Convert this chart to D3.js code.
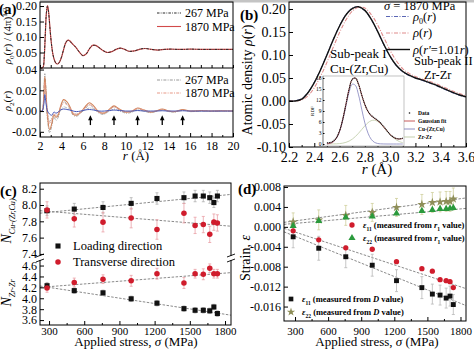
<!DOCTYPE html>
<html>
<head>
<meta charset="utf-8">
<script src="https://cdn.jsdelivr.net/npm/d3@7"></script>
<style>
body { margin: 0; background: #fff; }
svg { display: block; font-family: "Liberation Serif", "Times New Roman", serif; }
</style>
</head>
<body>
<script>
// ---------- data ----------

// (a) upper panel: rho0(r)/(4pi)^1/2
const rA = [2.0, 2.2, 2.3, 2.4, 2.5, 2.6, 2.7, 2.8, 2.9, 3.0, 3.1, 3.2, 3.35, 3.5, 3.65, 3.8, 4.0, 4.2, 4.4, 4.6,
            4.8, 5.0, 5.2, 5.4, 5.7, 6.0, 6.3, 6.6, 6.9, 7.2, 7.5, 7.9, 8.3, 8.7, 9.1, 9.5, 9.9, 10.3, 10.8, 11.3,
            11.8, 12.4, 13.0, 13.6, 14.2, 14.8, 15.4, 16.0, 17.0, 18.0, 19.0, 20.0];
const rho0_267 = [0.000, 0.000, 0.004, 0.040, 0.115, 0.180, 0.200, 0.180, 0.140, 0.100,
                  0.068, 0.045, 0.025, 0.015, 0.013, 0.018, 0.035, 0.060, 0.082, 0.090,
                  0.086, 0.078, 0.072, 0.064, 0.050, 0.040, 0.045, 0.062, 0.073, 0.072,
                  0.066, 0.056, 0.050, 0.053, 0.061, 0.064, 0.060, 0.054, 0.055, 0.061,
                  0.063, 0.060, 0.058, 0.060, 0.061, 0.060, 0.060, 0.061, 0.060, 0.060,
                  0.060, 0.060];
const rho0_1870 = [0.000, 0.000, 0.003, 0.037, 0.112, 0.178, 0.201, 0.182, 0.142, 0.101,
                   0.069, 0.045, 0.025, 0.015, 0.013, 0.018, 0.034, 0.059, 0.081, 0.090,
                   0.087, 0.079, 0.072, 0.064, 0.050, 0.040, 0.045, 0.061, 0.073, 0.073,
                   0.066, 0.056, 0.050, 0.053, 0.060, 0.064, 0.060, 0.054, 0.055, 0.060,
                   0.063, 0.060, 0.058, 0.060, 0.061, 0.060, 0.060, 0.061, 0.060, 0.060,
                   0.060, 0.060];

// (a) lower panel: rho2(r)
const rL = [2.0, 2.2, 2.35, 2.45, 2.55, 2.7, 2.9, 3.1, 3.3, 3.5, 3.7, 3.9, 4.2, 4.5, 4.8, 5.1, 5.4, 5.8, 6.2, 6.6,
            7.0, 7.5, 8.0, 8.5, 8.9, 9.4, 10.0, 10.6, 11.1, 11.7, 12.3, 12.8, 13.4, 14.0, 14.6, 15.3, 16.0, 17.0, 18.0, 19.0, 20.0];
const rho2_267a = [0.000, 0.000, 0.018, 0.036, 0.022, -0.008, -0.021, -0.014, -0.006, -0.009,
                   -0.006, 0.002, 0.009, 0.007, 0.002, -0.004, -0.005, -0.002, 0.002, 0.006,
                   0.003, -0.002, -0.003, 0.001, 0.004, 0.001, -0.002, -0.001, 0.002, 0.000,
                   -0.0015, -0.0005, 0.0015, -0.0005, -0.001, 0.001, -0.0005, 0.000, -0.0003, 0.000, 0.000];
const rho2_267b = [0.000, 0.000, 0.010, 0.025, 0.015, -0.003, -0.010, -0.007, -0.003, -0.005,
                   -0.003, 0.000, 0.004, 0.003, 0.001, -0.002, -0.003, -0.001, 0.001, 0.003,
                   0.002, -0.001, -0.002, 0.000, 0.002, 0.000, -0.001, -0.0005, 0.001, 0.000,
                   -0.001, 0.000, 0.001, 0.000, -0.0005, 0.0005, 0.000, 0.000, 0.000, 0.000, 0.000];
const rho2_1870a = [0.000, 0.000, 0.015, 0.033, 0.020, -0.005, -0.018, -0.012, -0.004, -0.006,
                    -0.004, 0.004, 0.011, 0.009, 0.004, -0.003, -0.004, -0.001, 0.004, 0.008,
                    0.005, -0.001, -0.002, 0.002, 0.005, 0.002, -0.001, 0.000, 0.003, 0.001,
                    -0.001, 0.000, 0.002, 0.000, -0.0005, 0.0015, 0.000, 0.0005, 0.000, 0.0003, 0.000];
const rho2_1870b = [0.000, 0.000, 0.012, 0.028, 0.017, -0.002, -0.012, -0.008, -0.003, -0.004,
                    -0.002, 0.003, 0.008, 0.006, 0.003, -0.002, -0.003, -0.001, 0.003, 0.006,
                    0.004, -0.001, -0.0015, 0.0015, 0.004, 0.0015, -0.001, 0.000, 0.0025, 0.001,
                    -0.0008, 0.000, 0.0015, 0.000, -0.0004, 0.001, 0.000, 0.0004, 0.000, 0.0002, 0.000];
const rho2_low = [0.000, 0.000, 0.006, 0.016, 0.008, 0.000, -0.003, -0.004, -0.001, -0.002,
                  -0.001, 0.001, 0.002, 0.0015, 0.001, 0.000, -0.0005, 0.000, 0.001, 0.0015,
                  0.001, 0.000, 0.000, 0.0005, 0.001, 0.0005, 0.000, 0.000, 0.0005, 0.000,
                  0.000, 0.000, 0.0003, 0.000, 0.000, 0.0003, 0.000, 0.000, 0.000, 0.000, 0.000];
const arrowR = [6.7, 8.9, 11.1, 13.4, 15.3];

// (b) atomic density around the first peak
const rB = [2.20, 2.25, 2.30, 2.35, 2.40, 2.45, 2.50, 2.55, 2.60, 2.65, 2.70, 2.75, 2.80, 2.85, 2.90,
            2.95, 3.00, 3.05, 3.10, 3.15, 3.20, 3.25, 3.30, 3.35, 3.40, 3.45, 3.50, 3.55, 3.60];
const rhoB0 = [0.000, 0.001, 0.005, 0.019, 0.041, 0.069, 0.101, 0.134, 0.164, 0.188, 0.202, 0.204, 0.196, 0.177, 0.151,
               0.122, 0.096, 0.076, 0.063, 0.055, 0.050, 0.045, 0.040, 0.035, 0.029, 0.023, 0.017, 0.012, 0.008];
const rhoB = [0.000, 0.000, 0.002, 0.011, 0.029, 0.054, 0.084, 0.117, 0.149, 0.176, 0.195, 0.204, 0.202, 0.188, 0.166,
              0.138, 0.110, 0.087, 0.070, 0.060, 0.053, 0.048, 0.044, 0.039, 0.033, 0.027, 0.021, 0.016, 0.011];
const rhoB101 = [0.000, 0.000, 0.004, 0.018, 0.040, 0.068, 0.100, 0.133, 0.163, 0.187, 0.201, 0.205, 0.197, 0.178, 0.152,
                 0.123, 0.097, 0.077, 0.064, 0.056, 0.050, 0.046, 0.041, 0.036, 0.030, 0.024, 0.018, 0.013, 0.009];

// (b) inset: RDF and its two-gaussian fit
const rIn = [2.500, 2.525, 2.550, 2.575, 2.600, 2.625, 2.650, 2.675, 2.700, 2.725, 2.750, 2.775, 2.800,
             2.825, 2.850, 2.875, 2.900, 2.925, 2.950, 2.975, 3.000, 3.025, 3.050, 3.075, 3.100];
const rdfData = [0.3, 0.4, 0.8, 1.7, 3.6, 6.7, 10.8, 14.9, 17.6, 18.0, 16.3, 13.4, 10.8,
                 8.9, 7.8, 7.1, 6.5, 5.7, 4.7, 3.6, 2.6, 1.9, 1.5, 1.4, 1.6];
const rdfFit = [0.05, 0.2, 0.6, 1.6, 3.5, 6.7, 10.8, 14.9, 17.6, 18.0, 16.3, 13.4, 10.7,
                8.8, 7.7, 7.0, 6.4, 5.6, 4.6, 3.6, 2.6, 1.85, 1.45, 1.35, 1.5];
const rdfCu = [0.05, 0.19, 0.59, 1.54, 3.42, 6.44, 10.3, 14.1, 16.3, 16.0, 13.4, 9.5, 5.75,
               2.95, 1.29, 0.48, 0.15, 0.04, 0.01, 0, 0, 0, 0, 0, 0];
const rdfZr = [0, 0.01, 0.02, 0.05, 0.11, 0.23, 0.45, 0.79, 1.31, 2.03, 2.93, 3.94, 4.96,
               5.81, 6.36, 6.49, 6.18, 5.50, 4.56, 3.53, 2.55, 1.72, 1.08, 0.63, 0.35];

// (c) coordination numbers vs applied stress
const stress = [283, 515, 760, 1000, 1220, 1450, 1545, 1615, 1670, 1705, 1735];
const cuLoad = [7.93, 7.95, 7.97, 8.02, 8.08, 8.09, 8.11, 8.11, 8.09, 8.03, 8.11];
const cuLoadErr = [0.06, 0.07, 0.07, 0.07, 0.07, 0.07, 0.07, 0.07, 0.07, 0.06, 0.07];
const cuTrans = [7.94, 7.83, 7.79, 7.84, 7.70, 7.90, 7.75, 7.76, 7.64, 7.79, 7.78];
const cuTransErr = [0.10, 0.10, 0.12, 0.12, 0.12, 0.12, 0.10, 0.10, 0.10, 0.10, 0.10];
const zrLoad = [4.23, 4.14, 4.10, 3.99, 3.91, 3.81, 3.78, 3.78, 3.77, 3.84, 3.72];
const zrLoadErr = [0.06, 0.05, 0.05, 0.05, 0.05, 0.05, 0.05, 0.05, 0.05, 0.05, 0.05];
const zrTrans = [4.19, 4.29, 4.35, 4.32, 4.45, 4.28, 4.45, 4.44, 4.55, 4.45, 4.45];
const zrTransErr = [0.08, 0.08, 0.08, 0.10, 0.10, 0.10, 0.08, 0.10, 0.08, 0.08, 0.08];
const fitStressC = [223, 1851];
const fitCuLoad = [7.90, 8.13];
const fitCuTrans = [7.93, 7.74];
const fitZrLoad = [4.225, 3.69];
const fitZrTrans = [4.20, 4.47];

// (d) strain vs applied stress
const eps11r = [-0.0008, -0.0026, -0.0042, -0.0045, -0.0070, -0.0084, -0.0089, -0.0106, -0.0108, -0.0110, -0.0122];
const eps22r = [0.0002, 0.0012, 0.0019, 0.0021, 0.0027, 0.0032, 0.0034, 0.0036, 0.0036, 0.0037, 0.0038];
const eps11D = [-0.0020, -0.0043, -0.0060, -0.0077, -0.0108, -0.0122, -0.0135, -0.0137, -0.0143, -0.0139, -0.0156];
const eps11DErr = [0.0022, 0.0024, 0.0022, 0.0022, 0.0022, 0.0022, 0.0020, 0.0020, 0.0020, 0.0020, 0.0020];
const eps22D = [0.0010, 0.0014, 0.0023, 0.0029, 0.0039, 0.0045, 0.0049, 0.0050, 0.0051, 0.0051, 0.0056];
const eps22DErr = [0.0018, 0.0020, 0.0020, 0.0018, 0.0018, 0.0020, 0.0020, 0.0020, 0.0020, 0.0020, 0.0022];
const fitStressD = [200, 1850];
const fit11r = [-0.0003, -0.0124];
const fit22r = [0.0005, 0.0037];
const fit11D = [-0.0010, -0.0158];
const fit22D = [0.0009, 0.0058];

// ---------- drawing ----------
const W = 474, H = 349;
const FONT = '"Liberation Serif", "Times New Roman", serif';
const svg = d3.select("body").append("svg").attr("width", W).attr("height", H);
svg.append("rect").attr("width", W).attr("height", H).attr("fill", "#fff");
svg.append("rect").attr("x", 40).attr("y", 0).attr("width", W - 40).attr("height", 2.5).attr("fill", "#c4c4c4");

// text with italic / sub / sup parts
function rich(g, x, y, parts, size, opt = {}) {
    const t = g.append("text").attr("x", x).attr("y", y).attr("font-size", size)
        .attr("text-anchor", opt.anchor || "start").attr("fill", opt.fill || "#000");
    if (opt.rotate) t.attr("transform", `rotate(-90,${x},${y})`);
    if (opt.bold) t.attr("font-weight", "bold");
    let shift = 0;
    parts.forEach(p => {
        const s = t.append("tspan").text(p.t);
        const want = p.sub ? size * 0.3 : p.sup ? -size * 0.4 : 0;
        if (want !== shift) { s.attr("dy", want - shift); shift = want; }
        if (p.i) s.attr("font-style", "italic");
        if (p.sub || p.sup) s.attr("font-size", size * (p.fs || 0.65));
    });
    return t;
}

function frame(g, x0, y0, x1, y1) {
    g.append("rect").attr("x", x0).attr("y", y0).attr("width", x1 - x0).attr("height", y1 - y0)
        .attr("fill", "none").attr("stroke", "#000").attr("stroke-width", 1);
}

// inward ticks, labels outside, no domain line (frames are drawn separately)
function axis(g, gen, tx, ty, size) {
    const a = g.append("g").attr("transform", `translate(${tx},${ty})`).call(gen);
    a.select(".domain").remove();
    a.attr("font-family", FONT).attr("font-size", size);
    return a;
}

function series(g, xs, ys, sx, sy, style, curve) {
    g.append("path")
        .attr("d", d3.line().x((d, i) => sx(xs[i])).y(d => sy(d)).curve(curve || d3.curveCatmullRom)(ys))
        .attr("fill", "none")
        .attr("stroke", style.stroke)
        .attr("stroke-width", style.width || 1)
        .attr("stroke-dasharray", style.dash || null);
}

// ===== panel (a) =====
const gA = svg.append("g");
const xA = d3.scaleLinear().domain([2, 20]).range([40, 233]);
const yA0 = d3.scaleLinear().domain([0, 0.213]).range([68, 2]);
const yA2 = d3.scaleLinear().domain([-0.025, 0.0415]).range([137, 68]);

series(gA, rA, rho0_1870, xA, yA0, {stroke: "#d24a4a", width: 1.2});
series(gA, rA, rho0_267, xA, yA0, {stroke: "#2a2a2a", width: 1, dash: "2.5,1.2,0.8,1.2"});

series(gA, rL, rho2_267a, xA, yA2, {stroke: "#9a9a9a", width: 0.9, dash: "3,1.2,1,1.2"});
series(gA, rL, rho2_267b, xA, yA2, {stroke: "#a8a8a8", width: 0.9, dash: "3,1.2,1,1.2"});
series(gA, rL, rho2_1870a, xA, yA2, {stroke: "#d0845c", width: 1.1});
series(gA, rL, rho2_1870b, xA, yA2, {stroke: "#e89a88", width: 0.9, dash: "3,1.2,1,1.2"});
series(gA, rL, rho2_low, xA, yA2, {stroke: "#4656b8", width: 1});

arrowR.forEach(r => {
    const x = xA(r), yt = yA2(-0.0135), yh = yA2(-0.004);
    gA.append("line").attr("x1", x).attr("x2", x).attr("y1", yt).attr("y2", yh + 4)
        .attr("stroke", "#000").attr("stroke-width", 1.3);
    gA.append("path").attr("d", `M${x - 2.3},${yh + 5}L${x + 2.3},${yh + 5}L${x},${yh}Z`).attr("fill", "#000");
});

frame(gA, 40, 2, 233, 137);
gA.append("line").attr("x1", 40).attr("x2", 233).attr("y1", 68).attr("y2", 68).attr("stroke", "#000");

axis(gA, d3.axisBottom(xA).tickValues(d3.range(2, 21, 2)).tickSize(-4).tickPadding(4).tickFormat(d3.format("d")), 0, 137, 12);
axis(gA, d3.axisBottom(xA).tickValues(d3.range(3, 20, 2)).tickSize(-2).tickFormat(""), 0, 137, 12);
axis(gA, d3.axisBottom(xA).tickValues(d3.range(2, 21, 1)).tickSize(-3).tickFormat(""), 0, 68, 12);
axis(gA, d3.axisLeft(yA0).tickValues([0.05, 0.10, 0.15, 0.20]).tickSize(-4).tickPadding(3).tickFormat(d => d.toFixed(2)), 40, 0, 12);
axis(gA, d3.axisLeft(yA2).tickValues([-0.02, 0.00, 0.02, 0.04]).tickSize(-4).tickPadding(3).tickFormat(d => d.toFixed(2)), 40, 0, 12);

rich(gA, -1, 14, [{t: "(a)"}], 15, {bold: true});
rich(gA, 11, 36, [{t: "ρ", i: true}, {t: "0", sub: true}, {t: "("}, {t: "r", i: true}, {t: ") / (4π)"}, {t: "1/2", sup: true}], 11, {rotate: true, anchor: "middle"});
rich(gA, 11, 101, [{t: "ρ", i: true}, {t: "2", sub: true}, {t: "("}, {t: "r", i: true}, {t: ")"}], 11, {rotate: true, anchor: "middle"});
rich(gA, 136, 160, [{t: "r", i: true}, {t: " (Å)"}], 13, {anchor: "middle"});

// legends (a)
[[13, "#2a2a2a", "2.5,1.2,0.8,1.2", "267 MPa"], [26.5, "#d24a4a", null, "1870 MPa"],
 [80, "#9a9a9a", "3,1.2,1,1.2", "267 MPa"], [93, "#e89a88", "3,1.2,1,1.2", "1870 MPa"]].forEach(d => {
    gA.append("line").attr("x1", 157).attr("x2", 181).attr("y1", d[0]).attr("y2", d[0])
        .attr("stroke", d[1]).attr("stroke-width", 1.1).attr("stroke-dasharray", d[2]);
    rich(gA, 185, d[0] + 4, [{t: d[3]}], 12);
});

// ===== panel (b) =====
const gB = svg.append("g");
const xB = d3.scaleLinear().domain([2.2, 3.6]).range([289, 466]);
const yB = d3.scaleLinear().domain([-0.1, 0.2152]).range([147, 2]);

series(gB, rB, rhoB0, xB, yB, {stroke: "#5a66b4", width: 1, dash: "4,1.5,1,1.5"});
series(gB, rB, rhoB, xB, yB, {stroke: "#e08c8c", width: 1.1, dash: "4,1.5,1,1.5"});
series(gB, rB, rhoB101, xB, yB, {stroke: "#111", width: 1.4});

frame(gB, 289, 2, 466, 147);
axis(gB, d3.axisBottom(xB).tickValues(d3.range(2.2, 3.61, 0.2)).tickSize(-4).tickPadding(5).tickFormat(d => d.toFixed(1)), 0, 147, 14);
axis(gB, d3.axisBottom(xB).tickValues(d3.range(2.3, 3.6, 0.2)).tickSize(-2).tickFormat(""), 0, 147, 14);
axis(gB, d3.axisLeft(yB).tickValues([-0.10, -0.05, 0.00, 0.05, 0.10, 0.15, 0.20]).tickSize(-4).tickPadding(3).tickFormat(d => d.toFixed(2)), 289, 0, 14);

rich(gB, 240, 20, [{t: "(b)"}], 15, {bold: true});
rich(gB, 252, 80, [{t: "Atomic density "}, {t: "ρ", i: true}, {t: "("}, {t: "r", i: true}, {t: ")"}], 14, {rotate: true, anchor: "middle"});
rich(gB, 377, 174, [{t: "r", i: true}, {t: " (Å)"}], 15, {anchor: "middle"});

rich(gB, 384, 10, [{t: "σ", i: true}, {t: " = 1870 MPa"}], 12.5);
[[16.5, "#5a66b4", "4,1.5,1,1.5", [{t: "ρ", i: true}, {t: "0", sub: true}, {t: "("}, {t: "r", i: true}, {t: ")"}]],
 [33, "#e08c8c", "4,1.5,1,1.5", [{t: "ρ", i: true}, {t: "("}, {t: "r", i: true}, {t: ")"}]],
 [49.5, "#111", null, [{t: "ρ", i: true}, {t: "("}, {t: "r'", i: true}, {t: "=1.01"}, {t: "r", i: true}, {t: ")"}]]].forEach(d => {
    gB.append("line").attr("x1", 386).attr("x2", 410).attr("y1", d[0]).attr("y2", d[0])
        .attr("stroke", d[1]).attr("stroke-width", d[2] ? 1.1 : 1.4).attr("stroke-dasharray", d[2]);
    rich(gB, 413, d[0] + 4, d[3], 12.5);
});
rich(gB, 330, 58, [{t: "Sub-peak I"}], 13);
rich(gB, 330, 73, [{t: "Cu-(Zr,Cu)"}], 13);
rich(gB, 414, 65, [{t: "Sub-peak II"}], 12.5);
rich(gB, 424, 79, [{t: "Zr-Zr"}], 12.5);

// inset
const gI = svg.append("g");
const yIn = d3.scaleLinear().domain([0, 18]).range([144, 78]);
gI.append("rect").attr("x", 323).attr("y", 76).attr("width", 81).attr("height", 70)
    .attr("fill", "#fff").attr("stroke", "#9a9a9a").attr("stroke-width", 0.6);
series(gI, rIn, rdfZr, xB, yIn, {stroke: "#bccaa4", width: 0.8});
series(gI, rIn, rdfCu, xB, yIn, {stroke: "#8282bc", width: 0.8});
series(gI, rIn, rdfFit, xB, yIn, {stroke: "#c04848", width: 0.8});
series(gI, rIn, rdfData, xB, yIn, {stroke: "#111", width: 1.1, dash: "1.2,0.6"});
gI.append("line").attr("x1", 323).attr("x2", 323).attr("y1", 76).attr("y2", 146).attr("stroke", "#555").attr("stroke-width", 0.6);
axis(gI, d3.axisLeft(yIn).tickValues([0, 3, 6, 9, 12, 15, 18]).tickSize(-1.5).tickPadding(1.5), 323, 0, 5.5);
rich(gI, 314, 111, [{t: "RDF"}], 5, {rotate: true, anchor: "middle"});

[["Data", null], ["Gaussian fit", "#c04848"], ["Cu-(Zr,Cu)", "#8282bc"], ["Zr-Zr", "#bccaa4"]].forEach((d, i) => {
    const y = 113 + i * 8;
    if (d[1]) gI.append("line").attr("x1", 404).attr("x2", 415).attr("y1", y).attr("y2", y).attr("stroke", d[1]).attr("stroke-width", 0.9);
    else gI.append("circle").attr("cx", 409.5).attr("cy", y).attr("r", 0.8).attr("fill", "#111");
    rich(gI, 418, y + 2, [{t: d[0]}], 5.5, {bold: true});
});

// ===== panel (c) =====
const gC = svg.append("g");
const xC = d3.scaleLinear().domain([223, 1851]).range([40, 231]);
const yCu = d3.scaleLinear().domain([7.35, 8.27]).range([258, 183]);
const yZr = d3.scaleLinear().domain([3.51, 4.72]).range([325, 259]);

function dashedFit(g, xs, ys, sx, sy) {
    g.append("path").attr("d", d3.line().x((d, i) => sx(xs[i])).y(d => sy(d))(ys))
        .attr("stroke", "#8a8a8a").attr("stroke-width", 1).attr("stroke-dasharray", "2.5,1.5").attr("fill", "none");
}
function errBars(g, xs, ys, es, sx, sy, color, cap) {
    g.selectAll(null).data(ys).join("g").each(function (d, i) {
        const x = sx(xs[i]), y0 = sy(d - es[i]), y1 = sy(d + es[i]);
        const e = d3.select(this);
        e.append("line").attr("x1", x).attr("x2", x).attr("y1", y0).attr("y2", y1).attr("stroke", color).attr("stroke-width", 0.8);
        e.append("line").attr("x1", x - cap).attr("x2", x + cap).attr("y1", y0).attr("y2", y0).attr("stroke", color).attr("stroke-width", 0.8);
        e.append("line").attr("x1", x - cap).attr("x2", x + cap).attr("y1", y1).attr("y2", y1).attr("stroke", color).attr("stroke-width", 0.8);
    });
}
function markers(g, xs, ys, sx, sy, type, size, color) {
    g.selectAll(null).data(ys).join("path")
        .attr("transform", (d, i) => `translate(${sx(xs[i])},${sy(d)})`)
        .attr("d", d3.symbol().type(type).size(size))
        .attr("fill", color);
}

dashedFit(gC, fitStressC, fitCuLoad, xC, yCu);
dashedFit(gC, fitStressC, fitCuTrans, xC, yCu);
dashedFit(gC, fitStressC, fitZrLoad, xC, yZr);
dashedFit(gC, fitStressC, fitZrTrans, xC, yZr);
errBars(gC, stress, cuLoad, cuLoadErr, xC, yCu, "#b0b0b0", 1.5);
errBars(gC, stress, zrLoad, zrLoadErr, xC, yZr, "#b0b0b0", 1.5);
errBars(gC, stress, cuTrans, cuTransErr, xC, yCu, "#eaa0a6", 1.5);
errBars(gC, stress, zrTrans, zrTransErr, xC, yZr, "#eaa0a6", 1.5);
markers(gC, stress, cuLoad, xC, yCu, d3.symbolSquare, 26, "#111");
markers(gC, stress, zrLoad, xC, yZr, d3.symbolSquare, 26, "#111");
markers(gC, stress, cuTrans, xC, yCu, d3.symbolCircle, 24, "#d01c2c");
markers(gC, stress, zrTrans, xC, yZr, d3.symbolCircle, 24, "#d01c2c");

frame(gC, 40, 183, 231, 325);
axis(gC, d3.axisBottom(xC).tickValues(d3.range(300, 1801, 300)).tickSize(-4).tickPadding(2).tickFormat(d3.format("d")), 0, 325, 11);
axis(gC, d3.axisBottom(xC).tickValues(d3.range(450, 1800, 300)).tickSize(-2).tickFormat(""), 0, 325, 11);
axis(gC, d3.axisLeft(yCu).tickValues([7.4, 7.6, 7.8, 8.0, 8.2]).tickSize(-4).tickPadding(3).tickFormat(d => d.toFixed(1)), 40, 0, 12);
axis(gC, d3.axisLeft(yZr).tickValues([3.6, 3.8, 4.0, 4.2, 4.4, 4.6]).tickSize(-4).tickPadding(3).tickFormat(d => d.toFixed(1)), 40, 0, 12);

// axis break marks
[40, 231].forEach(x => {
    gC.append("rect").attr("x", x - 3).attr("y", 256).attr("width", 6).attr("height", 4).attr("fill", "#fff");
    gC.append("line").attr("x1", x - 4).attr("x2", x + 4).attr("y1", 257).attr("y2", 254).attr("stroke", "#000").attr("stroke-width", 0.9);
    gC.append("line").attr("x1", x - 4).attr("x2", x + 4).attr("y1", 262).attr("y2", 259).attr("stroke", "#000").attr("stroke-width", 0.9);
});

markers(gC, [0], [0], () => 58, () => 246, d3.symbolSquare, 26, "#111");
rich(gC, 73, 250, [{t: "Loading direction"}], 12.5);
markers(gC, [0], [0], () => 58, () => 262, d3.symbolCircle, 24, "#d01c2c");
rich(gC, 73, 266, [{t: "Transverse direction"}], 12.5);

rich(gC, 0, 196, [{t: "(c)"}], 15, {bold: true});
rich(gC, 11, 221, [{t: "N", i: true}, {t: "Cu-(Zr,Cu)", sub: true, i: true, fs: 0.58}], 14, {rotate: true, anchor: "middle"});
rich(gC, 11, 293, [{t: "N", i: true}, {t: "Zr-Zr", sub: true, i: true, fs: 0.58}], 14, {rotate: true, anchor: "middle"});
rich(gC, 136, 346, [{t: "Applied stress, "}, {t: "σ", i: true}, {t: " (MPa)"}], 13, {anchor: "middle"});

// ===== panel (d) =====
const gD = svg.append("g");
const xD = d3.scaleLinear().domain([200, 1850]).range([284, 466]);
const yD = d3.scaleLinear().domain([-0.0189, 0.0082]).range([321, 186]);

dashedFit(gD, fitStressD, fit22D, xD, yD);
dashedFit(gD, fitStressD, fit22r, xD, yD);
dashedFit(gD, fitStressD, fit11r, xD, yD);
dashedFit(gD, fitStressD, fit11D, xD, yD);
errBars(gD, stress, eps22D, eps22DErr, xD, yD, "#cfcf9c", 1.5);
errBars(gD, stress, eps11D, eps11DErr, xD, yD, "#b8b8b8", 1.5);
markers(gD, stress, eps22D, xD, yD, d3.symbolStar, 26, "#8e8e58");
markers(gD, stress, eps22r, xD, yD, d3.symbolTriangle, 22, "#2a9a3c");
markers(gD, stress, eps11r, xD, yD, d3.symbolCircle, 22, "#d01c2c");
markers(gD, stress, eps11D, xD, yD, d3.symbolSquare, 24, "#111");

frame(gD, 284, 186, 466, 321);
axis(gD, d3.axisBottom(xD).tickValues(d3.range(300, 1801, 300)).tickSize(-4).tickPadding(6).tickFormat(d3.format("d")), 0, 321, 11);
axis(gD, d3.axisBottom(xD).tickValues(d3.range(450, 1800, 300)).tickSize(-2).tickFormat(""), 0, 321, 11);
axis(gD, d3.axisLeft(yD).tickValues([0.008, 0.004, 0.0, -0.004, -0.008, -0.012, -0.016]).tickSize(-4).tickPadding(3).tickFormat(d => d.toFixed(3)), 284, 0, 12);

rich(gD, 238, 194, [{t: "(d)"}], 15, {bold: true});
rich(gD, 250, 258, [{t: "Strain, "}, {t: "ε", i: true}], 14, {rotate: true, anchor: "middle"});
rich(gD, 377, 346, [{t: "Applied stress, "}, {t: "σ", i: true}, {t: " (MPa)"}], 13, {anchor: "middle"});

const legD = [
    [352, 225, d3.symbolCircle, "#d01c2c", "11", "r"],
    [352, 238, d3.symbolTriangle, "#2a9a3c", "22", "r"],
    [291, 299, d3.symbolSquare, "#111", "11", "D"],
    [291, 312, d3.symbolStar, "#8e8e58", "22", "D"]
];
legD.forEach(d => {
    markers(gD, [0], [0], () => d[0], () => d[1], d[2], 22, d[3]);
    const parts = [{t: "ε", i: true}, {t: d[4], sub: true}, {t: "  (measured from "}, {t: d[5], i: true}];
    if (d[5] === "r") parts.push({t: "1", sub: true});
    parts.push({t: " value)"});
    rich(gD, d[0] + 11, d[1] + 3, parts, 8.5, {bold: true});
});
</script>
</body>
</html>
